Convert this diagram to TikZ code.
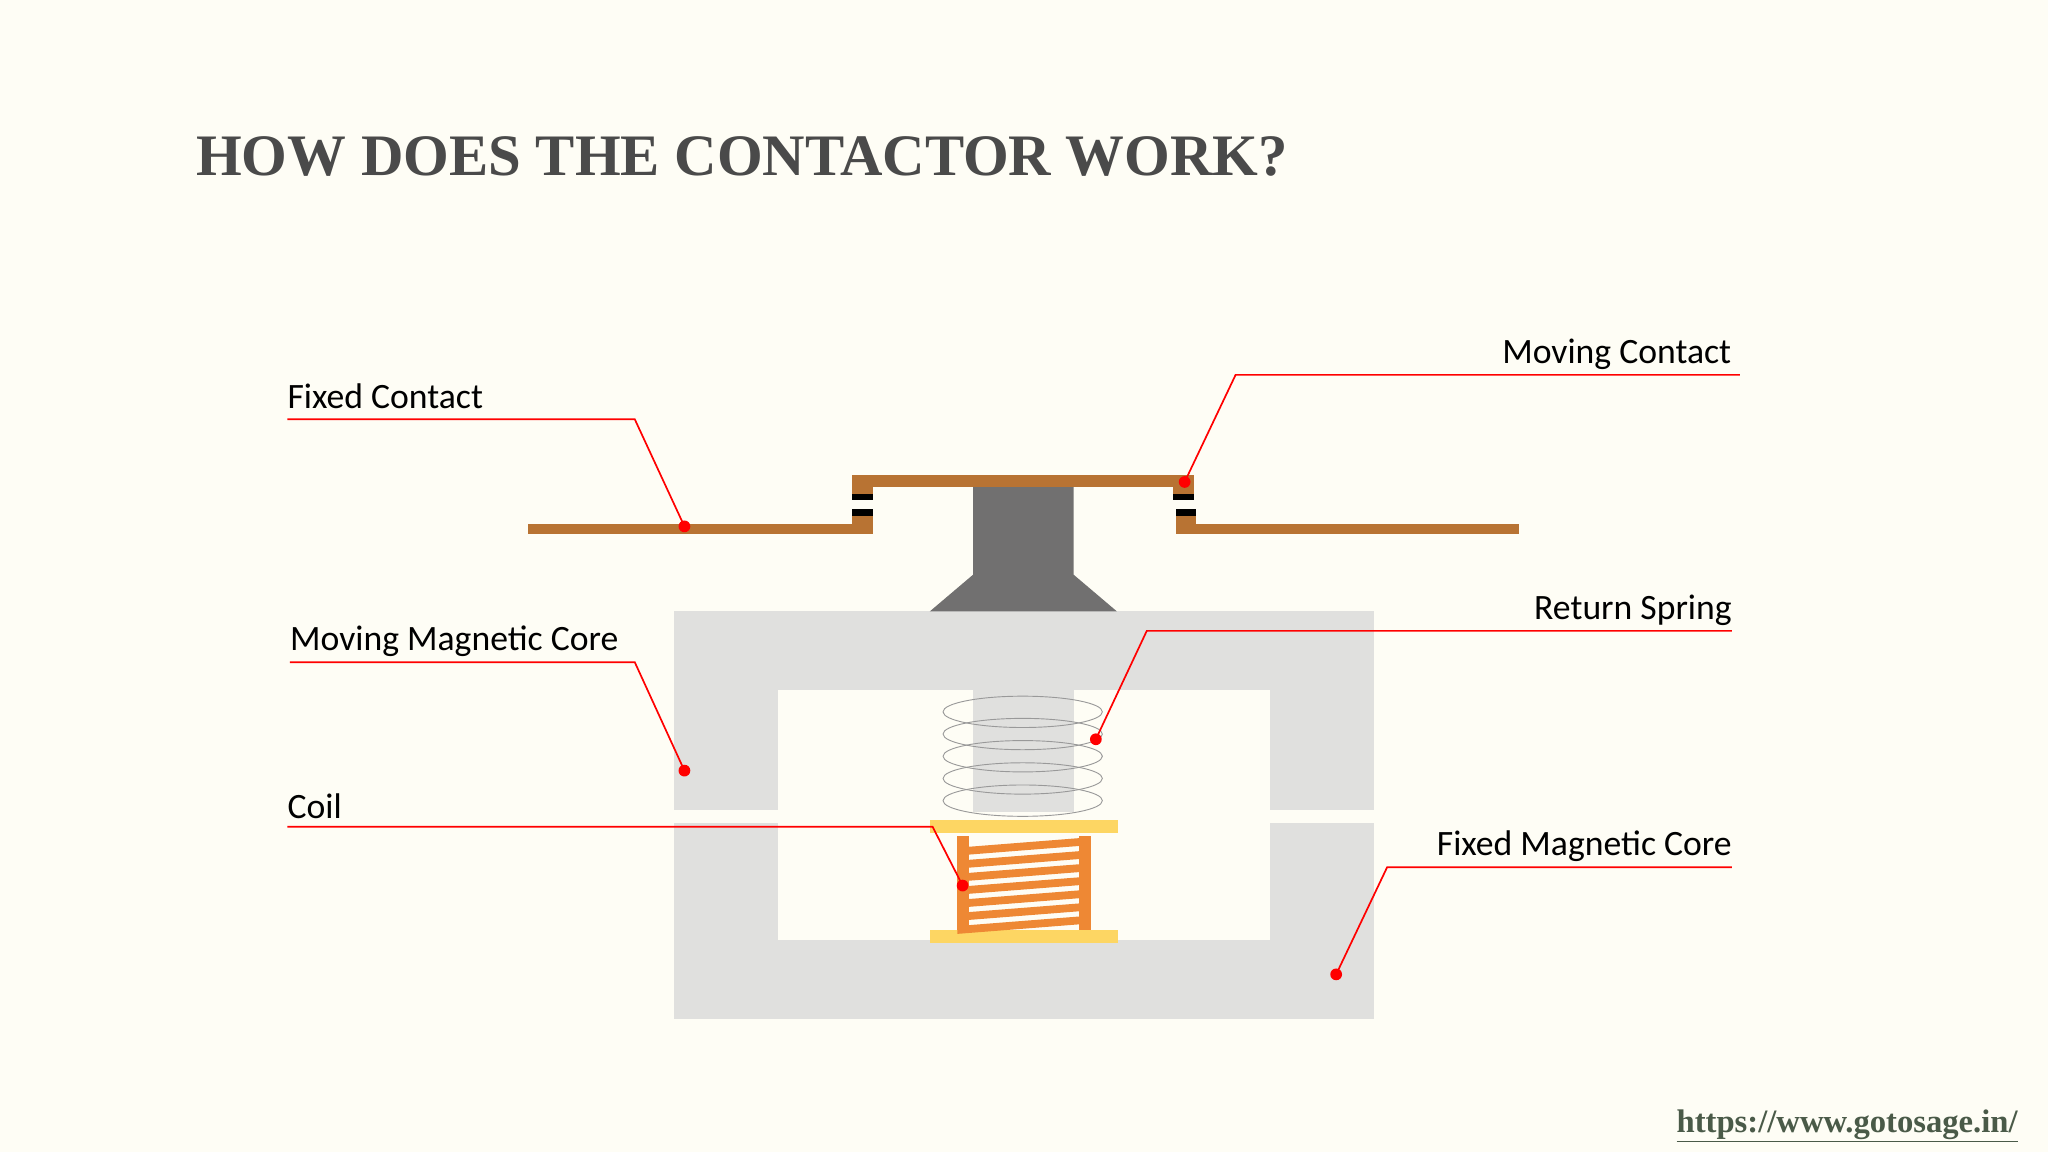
\documentclass[tikz,border=0pt]{standalone}
\usepackage{fontspec}
\setmainfont{Liberation Serif}
\newfontfamily\lab{Carlito}
\definecolor{bg}{HTML}{FEFDF5}
\definecolor{brass}{HTML}{B87333}
\definecolor{plung}{HTML}{717070}
\definecolor{core}{HTML}{E0E0DE}
\definecolor{yel}{HTML}{FDD663}
\definecolor{org}{HTML}{EE8834}
\definecolor{ttl}{HTML}{4A4A4A}
\definecolor{url}{HTML}{4A5A48}
\tikzset{
 lbl/.style={font=\lab\fontsize{27.3}{29}\selectfont, inner sep=0pt, anchor=base west},
 lblr/.style={lbl, anchor=base east},
 lead/.style={red, line width=1.3pt},
 dot/.style={circle, fill=red, inner sep=0pt, minimum size=9pt},
}
\begin{document}
\begin{tikzpicture}[x=1pt,y=-1pt]
\fill[bg] (0,0) rectangle (1568,882);
\useasboundingbox (0,0) rectangle (1568,882);
\node[anchor=base west, inner sep=0, text=ttl, font=\fontsize{45}{50}\selectfont\bfseries] (title) at (150,134) {HOW DOES THE CONTACTOR WORK?};
% cores
\fill[core] (516,468) rectangle (1052,620);
\fill[bg] (596,528) rectangle (972,620);
\fill[core] (745,528) rectangle (822,622);
\fill[core] (516,630) rectangle (1052,780);
\fill[bg] (596,630) rectangle (972,720);
% spring
\foreach \yy in {545,562,579,596,613}
  \draw[gray!80, line width=0.7pt] (783,\yy) ellipse [x radius=61, y radius=12];
% coil
\fill[yel] (712,628) rectangle (856,638);
\fill[yel] (712,712) rectangle (856,722);
\foreach \yy in {644,654,664,674,684,694,704}
  \fill[org] (733,\yy+5) -- (835,\yy-3) -- (835,\yy+3) -- (733,\yy+11) -- cycle;
\fill[org] (733,640) rectangle (742,712);
\fill[org] (826,640) rectangle (835,712);
% plunger
\fill[plung] (745,373) -- (822,373) -- (822,440) -- (855,468) -- (712,468) -- (745,440) -- cycle;
% moving contact
\fill[brass] (652,364) rectangle (914,373);
\fill[brass] (652,373) rectangle (668,378);
\fill[brass] (898,373) rectangle (914,378);
\fill[black] (652,378) rectangle (668,383);
\fill[black] (898,378) rectangle (914,383);
% fixed contacts
\fill[black] (652,390) rectangle (668,395);
\fill[black] (900,390) rectangle (916,395);
\fill[brass] (652,395) rectangle (668,409);
\fill[brass] (404,401) rectangle (668,409);
\fill[brass] (900,395) rectangle (916,409);
\fill[brass] (900,401) rectangle (1163,409);
% labels
\node[lbl] (fc) at (220,313) {Fixed Contact};
\node[dot] (fcd) at (524,403) {};
\draw[lead] (220,321) -- (486,321) -- (fcd.center);
\node[lbl] (mc) at (1150,278) {Moving Contact};
\node[dot] (mcd) at (907,369) {};
\draw[lead] (1332,287) -- (946,287) -- (mcd.center);
\node[lblr] (rs) at (1326,474) {Return Spring};
\node[dot] (rsd) at (839,566) {};
\draw[lead] (1326,483) -- (878,483) -- (rsd.center);
\node[lbl] (mmc) at (222,498) {Moving Magnetic Core};
\node[dot] (mmcd) at (524,590) {};
\draw[lead] (222,507) -- (486,507) -- (mmcd.center);
\node[lbl] (coil) at (220,627) {Coil};
\node[dot] (coild) at (737,678) {};
\draw[lead] (220,633) -- (714,633) -- (coild.center);
\node[lblr] (fmc) at (1326,655) {Fixed Magnetic Core};
\node[dot] (fmcd) at (1023,746) {};
\draw[lead] (1326,664) -- (1062,664) -- (fmcd.center);
\node[anchor=base east, inner sep=0, text=url, font=\fontsize{25}{27}\selectfont\bfseries] (u) at (1545,867) {\underline{https://www.gotosage.in/}};
\end{tikzpicture}
\end{document}
